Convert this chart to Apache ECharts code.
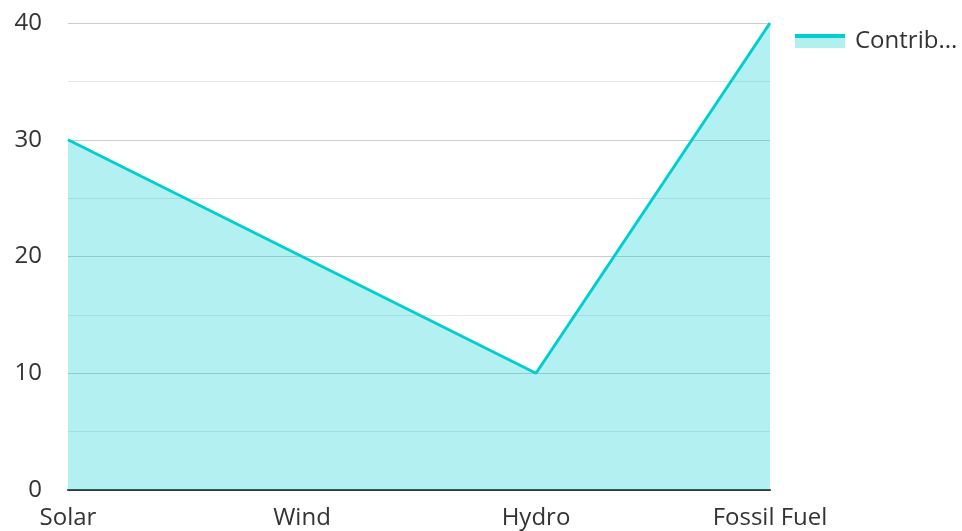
<!DOCTYPE html>
<html>
<head>
<meta charset="utf-8">
<script src="https://cdn.jsdelivr.net/npm/echarts@6/dist/echarts.min.js"></script>
<style>
  html, body { margin: 0; padding: 0; background: #fff; }
  #chart { width: 962px; height: 531px; }
</style>
</head>
<body>
<div id="chart"></div>
<script>
// chart data
const categories = ['Solar', 'Wind', 'Hydro', 'Fossil Fuel']
const contribution = [30, 20, 10, 40]
const seriesName = 'Contribution'

const lineColor = '#00CED1'

const chart = echarts.init(document.getElementById('chart'))

// legend icon: solid line on top of the light area swatch
const legendSwatch = new echarts.graphic.LinearGradient(0, 0, 0, 1, [
  { offset: 0, color: lineColor },
  { offset: 0.28, color: lineColor },
  { offset: 0.28, color: '#B2EFEF' },
  { offset: 1, color: '#B2EFEF' }
])

const option = {
  animation: false,
  textStyle: { fontFamily: 'Open Sans' },
  legend: {
    left: 790,
    top: 24,
    itemWidth: 50,
    itemHeight: 14,
    itemGap: 10,
    textStyle: {
      fontSize: 24,
      color: '#333',
      width: 112,
      overflow: 'truncate',
      padding: [0, 0, 0, 5]
    },
    data: [{ name: seriesName, icon: 'rect', itemStyle: { color: legendSwatch } }]
  },
  grid: {
    left: 68,
    right: 192,
    top: 23,
    bottom: 41,
    containLabel: false
  },
  xAxis: {
    type: 'category',
    data: categories,
    boundaryGap: false,
    axisLine: { lineStyle: { color: '#333', width: 2 } },
    axisTick: { show: false },
    axisLabel: { fontSize: 24, color: '#333', margin: 16 },
    splitLine: { show: false }
  },
  yAxis: {
    type: 'value',
    min: 0,
    max: 40,
    interval: 10,
    axisLine: { show: false },
    axisTick: { show: false },
    axisLabel: { fontSize: 24, color: '#333', margin: 26, padding: [5, 0, 0, 0] },
    splitLine: { show: true, lineStyle: { color: '#ccc', width: 1 } },
    minorTick: { show: false, splitNumber: 2 },
    minorSplitLine: { show: true, lineStyle: { color: '#e6e6e6', width: 1 } }
  },
  series: [{
    name: seriesName,
    type: 'line',
    data: contribution,
    showSymbol: false,
    symbol: 'none',
    lineStyle: { color: lineColor, width: 3 },
    itemStyle: { color: lineColor },
    areaStyle: { color: lineColor, opacity: 0.3 }
  }]
}

chart.setOption(option)
</script>
</body>
</html>
